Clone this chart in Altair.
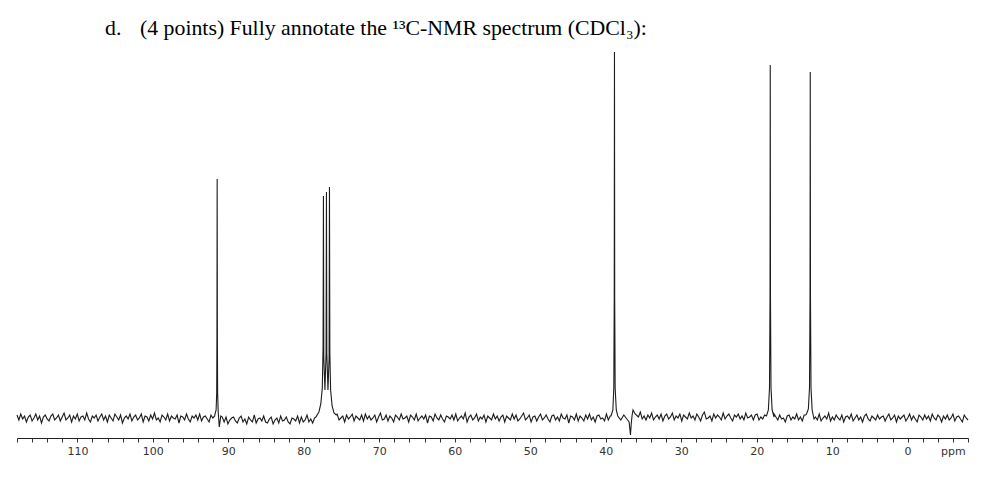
import altair as alt
import numpy as np
import pandas as pd

# ---- title texts ----
title_label = "d."
title_main = "(4 points) Fully annotate the \u00b9\u00b3C-NMR spectrum (CDCl\u2083):"

# ---- baseline noise (intensity, px-like units), read every ~0.25 ppm from 118 to -8 ----
noise = [
    3, -2, 4, -1, 2, -4, 1, 3, -3, 0, 4, -2, 2, -5, 1, 3, -1, -3, 2, 4, -2, 0, 3,
    -3, 1, 5, -2, 0, 3, -4, 2, -1, 4, -3, 1, 2, -2, 5, -1, -4, 2, 0, 3, -3, 1, 4,
    -2, 2, -4, 3, 0, -3, 4, 1, -2, 3, -5, 0, 2, -1, 4, -3, 1, 3, -2, 0, 4, -4, 2,
    1, -3, 3, -1, 5, -2, 0, -4, 3, 1, -2, 4, -3, 2, 0, -1, 3, -5, 2, 1, -2, 4, -1,
    -4, 2, 0, 3, -2, 4, -3, 1, 2, -1, -4, 3, 0, 2, -3, 5, -1, 1, -2, 3, -4, 0, 2,
    3, -1, -3, 2, 4, -2, 1, -4, 3, 0, -2, 5, -3, 1, 2, -1, 4, -2, -3, 1, 3, -4, 0,
    2, -3, 4, -1, 0, 3, -2, -4, 2, 1, -1, 4, -3, 3, -2, 0, 5, -2, 1, -3, 2, -1, 4,
    -2, 0, 3, -4, 2, -1, 3, 1, -3, 4, -2, 0, 2, -4, 3, -1, 1, 4, -3, 2, 0, -2, 3,
    -3, 4, -1, 2, -2, 0, 3, -4, 1, 5, -2, -1, 3, -3, 2, 0, -4, 3, 1, -2, 4, -1, 0,
    2, -4, 3, 1, -2, 4, -3, 0, 2, -1, 3, -5, 2, 1, -3, 4, 0, -2, 3, -1, -4, 2, 1,
    -1, 3, -2, 4, -3, 0, 2, -1, 5, -4, 1, 3, -2, 0, 4, -3, 1, -1, 3, -4, 2, 0, -2,
    4, -1, 2, -3, 1, 3, -4, 2, 0, -2, 4, -1, 3, -3, -1, 2, 5, -2, 0, 3, -4, 1, 2,
    -3, 1, 4, -2, 0, 3, -1, -4, 2, 3, -2, 1, -3, 4, 0, -1, 3, -5, 2, 1, -2, 4, -3,
    2, 0, -3, 3, -1, 4, -2, 1, -4, 2, 3, -1, 0, -3, 4, -2, 2, 1, -4, 3, 0, -1, 2,
    -2, 4, -3, 1, 2, -1, -4, 3, 0, 5, -2, 1, -3, 2, -1, 4, -3, 0, 2, -2, 3, -4, 1,
    3, -2, 0, 4, -3, 1, -1, 3, -4, 2, 0, -2, 4, -1, 1, -3, 3, 0, -4, 2, 5, -2, -1,
    1, -4, 3, -1, 2, 0, -3, 4, -2, 1, 3, -1, -4, 2, 0, 3, -2, 1, -3, 4, -1, 0, 2,
    -3, 2, 4, -2, 1, -1, 3, -4, 0, 2, -3, 4, 1, -2, 3, -1, 0, -4, 2, 3, -2, 1, -1,
    4, -2, 1, -3, 3, 0, -1, 2, -4, 3, 1, -2, 4, -3, 0, 2, -1, 5, -3, 1, -2, 3, 0,
    -2, 3, -4, 1, 2, -1, 4, -3, 0, 3, -2, 1, -4, 2, 4, -1, -3, 2, 0, -2, 3, -1, 1,
    2, -3, 1, 4, -2, 0, 3, -4, 2, -1, 1, 3, -3, 0, 4, -2, 2, -1, -4, 3, 1, -2, 3,
    -1, 2, -3, 4, 0, -2, 3, 1, -4, 2, -1, 3, -2, 0, 4, -3, 1, 2, -1, -4, 3, 0, -2,
]
noise_start, noise_end = 118.0, -8.0

# baseline level shifts: (from ppm, to ppm, shift)
baseline_shifts = [(90.6, 78.4, -2), (36.0, 20.0, 1)]

# ---- peak regions (ppm, intensity) ----
peak_91_ppm = [91.80, 91.62, 91.54, 91.51, 91.48, 91.45, 91.42, 91.34, 91.20, 91.00]
peak_91_int = [3, 8, 25, 80, 239, 80, 25, 6, -9, 2]

triplet_ppm = [78.40, 78.00, 77.75, 77.55, 77.45, 77.40, 77.35, 77.20, 77.05, 77.00,
               76.95, 76.80, 76.65, 76.60, 76.55, 76.45, 76.25, 76.00, 75.70]
triplet_int = [1, 6, 14, 30, 70, 222, 60, 28, 65, 226,
               65, 28, 60, 231, 65, 28, 12, 5, 3]

peak_39_ppm = [39.30, 39.05, 38.93, 38.87, 38.84, 38.81, 38.75, 38.60, 38.40, 38.00,
               37.60, 37.20, 36.90, 36.72, 36.62, 36.50, 36.38, 36.10, 35.80]
peak_39_int = [2, 8, 30, 120, 366, 120, 30, 8, 2, -2,
               3, -1, -4, -17, -6, 3, 8, 4, 2]

peak_18_ppm = [18.70, 18.45, 18.30, 18.23, 18.20, 18.17, 18.10, 17.95, 17.70]
peak_18_int = [2, 8, 30, 120, 353, 120, 30, 8, 1]

peak_13_ppm = [13.50, 13.40, 13.15, 13.00, 12.93, 12.90, 12.87, 12.80, 12.65, 12.40]
peak_13_int = [3, 4, 9, 30, 120, 346, 120, 30, 8, -1]

# ---- axis ticks ----
tick_values = list(range(-8, 119, 2))
label_values = [110, 100, 90, 80, 70, 60, 50, 40, 30, 20, 10, 0]
unit_label = "ppm"
unit_label_pos = -6

# ---- build table ----
peak_sets = [
    (peak_91_ppm, peak_91_int),
    (triplet_ppm, triplet_int),
    (peak_39_ppm, peak_39_int),
    (peak_18_ppm, peak_18_int),
    (peak_13_ppm, peak_13_int),
]
grid = np.linspace(noise_start, noise_end, len(noise))
rows = []
for p, v in zip(grid, noise):
    inside = any(min(pp) <= p <= max(pp) for pp, _ in peak_sets)
    if inside:
        continue
    shift = sum(s for hi, lo, s in baseline_shifts if lo <= p <= hi)
    rows.append({"ppm": float(p), "intensity": float(v + shift)})
for pp, vv in peak_sets:
    for p, v in zip(pp, vv):
        rows.append({"ppm": p, "intensity": float(v)})
df = pd.DataFrame(rows).sort_values("ppm", ascending=False).reset_index(drop=True)
df["idx"] = np.arange(len(df))

label_expr = (
    "indexof([" + ",".join(str(v) for v in label_values) + "], datum.value) >= 0 ? datum.label : "
    f"(datum.value == {unit_label_pos} ? '{unit_label}' : '')"
)

x_scale = alt.Scale(domain=[noise_end, noise_start], reverse=True, nice=False, zero=False)

spectrum = alt.Chart(df).mark_line(color="#1c1c1c", strokeWidth=1.1, interpolate="linear").encode(
    x=alt.X(
        "ppm:Q",
        scale=x_scale,
        axis=alt.Axis(
            values=tick_values,
            labelExpr=label_expr,
            title=None,
            grid=False,
            domainColor="#222222",
            domainWidth=1,
            tickColor="#333333",
            tickSize=4,
            labelFont="DejaVu Sans",
            labelFontSize=11,
            labelColor="#333333",
            labelPadding=3,
            labelOverlap=False,
            labelFlush=False,
        ),
    ),
    y=alt.Y("intensity:Q", scale=alt.Scale(domain=[-20, 373], nice=False, zero=False), axis=None),
    order="idx:Q",
)

title_df = pd.DataFrame({"t": [title_label, title_main], "px": [88, 123]})
title_layer = alt.Chart(title_df).mark_text(
    font="Liberation Serif", fontSize=21.8, color="#000000", align="left", baseline="alphabetic"
).encode(
    x=alt.X("px:Q", scale=None),
    y=alt.value(-10),
    text="t:N",
)

chart = alt.layer(spectrum, title_layer).properties(
    width=951,
    height=393,
    autosize=alt.AutoSizeParams(type="none"),
    padding={"left": 9, "top": 37, "right": 28, "bottom": 30},
    background="white",
).configure_view(stroke=None)

chart.save("out.html", embed_options={"renderer": "svg", "actions": False})
